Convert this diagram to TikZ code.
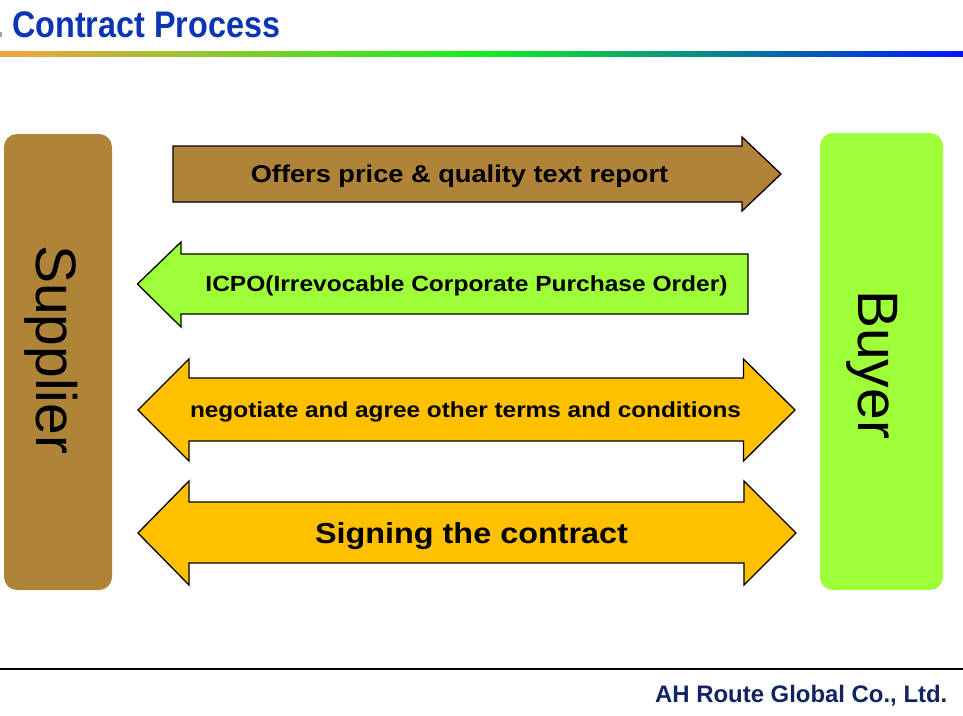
\documentclass[tikz,border=0pt]{standalone}
\usepackage{fontspec}
\usepackage{graphicx}
\setmainfont{Liberation Sans}
\definecolor{supcol}{HTML}{B08438}
\definecolor{buycol}{HTML}{9EFF38}
\definecolor{goldcol}{HTML}{FFC000}
\definecolor{titlecol}{HTML}{0B35B5}
\definecolor{footcol}{HTML}{10245F}
\definecolor{gA}{HTML}{F2A440}
\definecolor{gB}{HTML}{CDD832}
\definecolor{gC}{HTML}{10F020}
\definecolor{gD}{HTML}{08A6C2}
\definecolor{gE}{HTML}{0014FF}
\newcommand{\widetxt}[1]{\scalebox{1.12}[1]{#1}}
\tikzset{
  arrowshape/.style={draw=black, line width=1.3pt, line join=miter},
  sidebox/.style={rounded corners=13pt, inner sep=0pt, draw=none},
  sidetext/.style={rotate=-90, anchor=base west, inner sep=0pt, font=\fontsize{57}{60}\selectfont},
  arrowtext/.style={anchor=base, inner sep=0pt, text=black}
}
\begin{document}
\begin{tikzpicture}[x=1pt,y=-1pt]
\useasboundingbox (0,0) rectangle (963,715);
\fill[white] (0,0) rectangle (963,715);
% title
\fill[blue!30!gray!60] (0,32) rectangle (1.8,36.5);
\node[anchor=base west, inner sep=0pt, text=titlecol, font=\fontsize{37}{42}\selectfont\bfseries] (title) at (12,37.5) {\scalebox{0.875}[1]{Contract Process}};
% gradient bar
\shade[left color=gA, middle color=gB, right color=gC] (0,51) rectangle (481.5,56.5);
\shade[left color=gC, middle color=gD, right color=gE] (481.5,51) rectangle (963,56.5);
% side boxes
\node[sidebox, fill=supcol, minimum width=108pt, minimum height=456pt] (supplier) at (58,362) {};
\node[sidebox, fill=buycol, minimum width=123pt, minimum height=457pt] (buyer) at (881.5,361.5) {};
\node[sidetext] (suptxt) at (36,245) {Supplier};
\node[sidetext] (buytxt) at (858,290) {Buyer};
% arrow 1
\draw[arrowshape, fill=supcol] (173,146) -- (742,146) -- (742,137) -- (781,174) -- (742,211) -- (742,202) -- (173,202) -- cycle;
\node[arrowtext, font=\bfseries\fontsize{24.3}{28}\selectfont] (t1) at (459.5,182.7) {\widetxt{Offers price \& quality text report}};
% arrow 2
\draw[arrowshape, fill=buycol] (748,254) -- (181,254) -- (181,242) -- (137.5,284) -- (181,327) -- (181,314) -- (748,314) -- cycle;
\node[arrowtext, font=\bfseries\fontsize{21.9}{26}\selectfont] (t2) at (466.5,291.8) {\widetxt{ICPO(Irrevocable Corporate Purchase Order)}};
% arrow 3
\draw[arrowshape, fill=goldcol] (138,410) -- (189,359) -- (189,378) -- (743.5,378) -- (743.5,359) -- (795,410) -- (743.5,461) -- (743.5,441) -- (189,441) -- (189,461) -- cycle;
\node[arrowtext, font=\bfseries\fontsize{21.75}{26}\selectfont] (t3) at (465.5,417.8) {\widetxt{negotiate and agree other terms and conditions}};
% arrow 4
\draw[arrowshape, fill=goldcol] (138,533) -- (189,481) -- (189,502) -- (744,502) -- (744,481) -- (796,533) -- (744,585) -- (744,563) -- (189,563) -- (189,585) -- cycle;
\node[arrowtext, font=\bfseries\fontsize{28.9}{32}\selectfont] (t4) at (471.5,543.3) {\widetxt{Signing the contract}};
% footer
\draw[line width=1.2pt, black] (0,669) -- (963,669);
\node[anchor=base west, inner sep=0pt, text=footcol, font=\fontsize{23.9}{27}\selectfont\bfseries] (foot) at (655,702) {AH Route Global Co., Ltd.};
\end{tikzpicture}
\end{document}
